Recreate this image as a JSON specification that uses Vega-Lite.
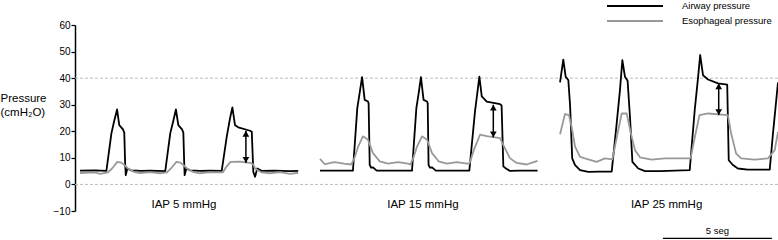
{
  "$schema": "https://vega.github.io/schema/vega-lite/v6.json",
  "width": 703,
  "height": 186,
  "autosize": {"type": "none"},
  "padding": {"left": 75, "top": 25, "right": 0, "bottom": 29},
  "config": {
    "font": "Liberation Sans",
    "view": {"stroke": null},
    "axisY": {
      "values": [-10, 0, 10, 20, 30, 40, 50, 60],
      "grid": false,
      "domainColor": "#000000", "domainWidth": 1.5,
      "tickColor": "#000000", "tickWidth": 1.2, "tickSize": 4,
      "labelColor": "#000000", "labelFontSize": 10, "labelPadding": 1,
      "titleAngle": 0, "titleAlign": "left", "titleBaseline": "top",
      "titleX": -75, "titleY": 67,
      "titleFontSize": 11.5, "titleFontWeight": "normal", "titleColor": "#000000", "titleLineHeight": 14
    }
  },
  "datasets": {
    "traces": [
      {"panel": 1, "series": "Airway pressure", "t": 0.23, "p": 5.2},
      {"panel": 1, "series": "Airway pressure", "t": 0.92, "p": 5.3},
      {"panel": 1, "series": "Airway pressure", "t": 1.44, "p": 5.1},
      {"panel": 1, "series": "Airway pressure", "t": 1.67, "p": 19.2},
      {"panel": 1, "series": "Airway pressure", "t": 1.79, "p": 23.6},
      {"panel": 1, "series": "Airway pressure", "t": 1.93, "p": 28.2},
      {"panel": 1, "series": "Airway pressure", "t": 2.03, "p": 22.3},
      {"panel": 1, "series": "Airway pressure", "t": 2.20, "p": 20.7},
      {"panel": 1, "series": "Airway pressure", "t": 2.26, "p": 19.5},
      {"panel": 1, "series": "Airway pressure", "t": 2.30, "p": 8.0},
      {"panel": 1, "series": "Airway pressure", "t": 2.33, "p": 3.5},
      {"panel": 1, "series": "Airway pressure", "t": 2.40, "p": 6.0},
      {"panel": 1, "series": "Airway pressure", "t": 2.58, "p": 5.3},
      {"panel": 1, "series": "Airway pressure", "t": 3.04, "p": 5.1},
      {"panel": 1, "series": "Airway pressure", "t": 3.44, "p": 5.2},
      {"panel": 1, "series": "Airway pressure", "t": 4.14, "p": 5.0},
      {"panel": 1, "series": "Airway pressure", "t": 4.37, "p": 19.2},
      {"panel": 1, "series": "Airway pressure", "t": 4.50, "p": 23.6},
      {"panel": 1, "series": "Airway pressure", "t": 4.63, "p": 28.2},
      {"panel": 1, "series": "Airway pressure", "t": 4.74, "p": 22.3},
      {"panel": 1, "series": "Airway pressure", "t": 4.91, "p": 20.7},
      {"panel": 1, "series": "Airway pressure", "t": 4.97, "p": 19.5},
      {"panel": 1, "series": "Airway pressure", "t": 5.01, "p": 8.0},
      {"panel": 1, "series": "Airway pressure", "t": 5.03, "p": 3.5},
      {"panel": 1, "series": "Airway pressure", "t": 5.11, "p": 6.0},
      {"panel": 1, "series": "Airway pressure", "t": 5.29, "p": 5.3},
      {"panel": 1, "series": "Airway pressure", "t": 5.73, "p": 5.1},
      {"panel": 1, "series": "Airway pressure", "t": 6.19, "p": 5.2},
      {"panel": 1, "series": "Airway pressure", "t": 6.73, "p": 5.1},
      {"panel": 1, "series": "Airway pressure", "t": 6.96, "p": 17.9},
      {"panel": 1, "series": "Airway pressure", "t": 7.11, "p": 24.8},
      {"panel": 1, "series": "Airway pressure", "t": 7.22, "p": 29.0},
      {"panel": 1, "series": "Airway pressure", "t": 7.34, "p": 22.3},
      {"panel": 1, "series": "Airway pressure", "t": 7.49, "p": 21.5},
      {"panel": 1, "series": "Airway pressure", "t": 8.03, "p": 20.2},
      {"panel": 1, "series": "Airway pressure", "t": 8.11, "p": 19.8},
      {"panel": 1, "series": "Airway pressure", "t": 8.18, "p": 4.7},
      {"panel": 1, "series": "Airway pressure", "t": 8.26, "p": 2.9},
      {"panel": 1, "series": "Airway pressure", "t": 8.36, "p": 6.0},
      {"panel": 1, "series": "Airway pressure", "t": 8.56, "p": 5.1},
      {"panel": 1, "series": "Airway pressure", "t": 9.17, "p": 5.2},
      {"panel": 1, "series": "Airway pressure", "t": 9.86, "p": 5.0},
      {"panel": 1, "series": "Airway pressure", "t": 10.24, "p": 5.1},

      {"panel": 1, "series": "Esophageal pressure", "t": 0.23, "p": 4.3},
      {"panel": 1, "series": "Esophageal pressure", "t": 0.92, "p": 4.5},
      {"panel": 1, "series": "Esophageal pressure", "t": 1.15, "p": 4.0},
      {"panel": 1, "series": "Esophageal pressure", "t": 1.51, "p": 4.5},
      {"panel": 1, "series": "Esophageal pressure", "t": 1.70, "p": 6.0},
      {"panel": 1, "series": "Esophageal pressure", "t": 1.94, "p": 8.5},
      {"panel": 1, "series": "Esophageal pressure", "t": 2.12, "p": 8.2},
      {"panel": 1, "series": "Esophageal pressure", "t": 2.27, "p": 7.3},
      {"panel": 1, "series": "Esophageal pressure", "t": 2.43, "p": 6.0},
      {"panel": 1, "series": "Esophageal pressure", "t": 2.74, "p": 4.6},
      {"panel": 1, "series": "Esophageal pressure", "t": 2.98, "p": 4.3},
      {"panel": 1, "series": "Esophageal pressure", "t": 3.44, "p": 4.6},
      {"panel": 1, "series": "Esophageal pressure", "t": 3.90, "p": 4.2},
      {"panel": 1, "series": "Esophageal pressure", "t": 4.22, "p": 4.5},
      {"panel": 1, "series": "Esophageal pressure", "t": 4.40, "p": 6.0},
      {"panel": 1, "series": "Esophageal pressure", "t": 4.65, "p": 8.5},
      {"panel": 1, "series": "Esophageal pressure", "t": 4.83, "p": 8.2},
      {"panel": 1, "series": "Esophageal pressure", "t": 4.97, "p": 7.3},
      {"panel": 1, "series": "Esophageal pressure", "t": 5.14, "p": 6.0},
      {"panel": 1, "series": "Esophageal pressure", "t": 5.44, "p": 4.6},
      {"panel": 1, "series": "Esophageal pressure", "t": 5.73, "p": 4.2},
      {"panel": 1, "series": "Esophageal pressure", "t": 6.19, "p": 4.6},
      {"panel": 1, "series": "Esophageal pressure", "t": 6.78, "p": 4.5},
      {"panel": 1, "series": "Esophageal pressure", "t": 6.93, "p": 6.5},
      {"panel": 1, "series": "Esophageal pressure", "t": 7.14, "p": 8.5},
      {"panel": 1, "series": "Esophageal pressure", "t": 7.57, "p": 8.6},
      {"panel": 1, "series": "Esophageal pressure", "t": 8.03, "p": 8.1},
      {"panel": 1, "series": "Esophageal pressure", "t": 8.17, "p": 7.6},
      {"panel": 1, "series": "Esophageal pressure", "t": 8.26, "p": 6.0},
      {"panel": 1, "series": "Esophageal pressure", "t": 8.56, "p": 4.5},
      {"panel": 1, "series": "Esophageal pressure", "t": 8.94, "p": 4.2},
      {"panel": 1, "series": "Esophageal pressure", "t": 9.40, "p": 4.6},
      {"panel": 1, "series": "Esophageal pressure", "t": 9.86, "p": 4.0},
      {"panel": 1, "series": "Esophageal pressure", "t": 10.24, "p": 4.4},

      {"panel": 2, "series": "Airway pressure", "t": 11.24, "p": 5.2},
      {"panel": 2, "series": "Airway pressure", "t": 12.16, "p": 5.2},
      {"panel": 2, "series": "Airway pressure", "t": 12.75, "p": 5.2},
      {"panel": 2, "series": "Airway pressure", "t": 12.95, "p": 28.7},
      {"panel": 2, "series": "Airway pressure", "t": 13.05, "p": 34.0},
      {"panel": 2, "series": "Airway pressure", "t": 13.17, "p": 40.4},
      {"panel": 2, "series": "Airway pressure", "t": 13.29, "p": 31.8},
      {"panel": 2, "series": "Airway pressure", "t": 13.44, "p": 31.2},
      {"panel": 2, "series": "Airway pressure", "t": 13.47, "p": 30.5},
      {"panel": 2, "series": "Airway pressure", "t": 13.52, "p": 7.4},
      {"panel": 2, "series": "Airway pressure", "t": 13.58, "p": 6.3},
      {"panel": 2, "series": "Airway pressure", "t": 13.67, "p": 6.4},
      {"panel": 2, "series": "Airway pressure", "t": 13.84, "p": 5.2},
      {"panel": 2, "series": "Airway pressure", "t": 14.45, "p": 5.2},
      {"panel": 2, "series": "Airway pressure", "t": 14.91, "p": 5.2},
      {"panel": 2, "series": "Airway pressure", "t": 15.46, "p": 5.2},
      {"panel": 2, "series": "Airway pressure", "t": 15.66, "p": 28.7},
      {"panel": 2, "series": "Airway pressure", "t": 15.76, "p": 34.0},
      {"panel": 2, "series": "Airway pressure", "t": 15.87, "p": 40.4},
      {"panel": 2, "series": "Airway pressure", "t": 15.99, "p": 31.8},
      {"panel": 2, "series": "Airway pressure", "t": 16.15, "p": 31.2},
      {"panel": 2, "series": "Airway pressure", "t": 16.18, "p": 30.5},
      {"panel": 2, "series": "Airway pressure", "t": 16.22, "p": 7.4},
      {"panel": 2, "series": "Airway pressure", "t": 16.28, "p": 6.3},
      {"panel": 2, "series": "Airway pressure", "t": 16.38, "p": 6.4},
      {"panel": 2, "series": "Airway pressure", "t": 16.55, "p": 5.2},
      {"panel": 2, "series": "Airway pressure", "t": 17.20, "p": 5.2},
      {"panel": 2, "series": "Airway pressure", "t": 18.09, "p": 5.2},
      {"panel": 2, "series": "Airway pressure", "t": 18.35, "p": 27.5},
      {"panel": 2, "series": "Airway pressure", "t": 18.45, "p": 34.0},
      {"panel": 2, "series": "Airway pressure", "t": 18.55, "p": 40.6},
      {"panel": 2, "series": "Airway pressure", "t": 18.66, "p": 33.1},
      {"panel": 2, "series": "Airway pressure", "t": 18.89, "p": 31.2},
      {"panel": 2, "series": "Airway pressure", "t": 19.50, "p": 30.2},
      {"panel": 2, "series": "Airway pressure", "t": 19.57, "p": 29.7},
      {"panel": 2, "series": "Airway pressure", "t": 19.65, "p": 6.8},
      {"panel": 2, "series": "Airway pressure", "t": 19.77, "p": 6.0},
      {"panel": 2, "series": "Airway pressure", "t": 19.95, "p": 5.1},
      {"panel": 2, "series": "Airway pressure", "t": 20.41, "p": 5.2},
      {"panel": 2, "series": "Airway pressure", "t": 21.22, "p": 5.2},

      {"panel": 2, "series": "Esophageal pressure", "t": 11.24, "p": 9.6},
      {"panel": 2, "series": "Esophageal pressure", "t": 11.46, "p": 7.6},
      {"panel": 2, "series": "Esophageal pressure", "t": 11.91, "p": 8.4},
      {"panel": 2, "series": "Esophageal pressure", "t": 12.34, "p": 7.8},
      {"panel": 2, "series": "Esophageal pressure", "t": 12.67, "p": 7.5},
      {"panel": 2, "series": "Esophageal pressure", "t": 12.80, "p": 9.5},
      {"panel": 2, "series": "Esophageal pressure", "t": 12.98, "p": 14.0},
      {"panel": 2, "series": "Esophageal pressure", "t": 13.21, "p": 18.1},
      {"panel": 2, "series": "Esophageal pressure", "t": 13.44, "p": 16.8},
      {"panel": 2, "series": "Esophageal pressure", "t": 13.67, "p": 11.8},
      {"panel": 2, "series": "Esophageal pressure", "t": 13.98, "p": 8.7},
      {"panel": 2, "series": "Esophageal pressure", "t": 14.36, "p": 7.8},
      {"panel": 2, "series": "Esophageal pressure", "t": 14.82, "p": 8.4},
      {"panel": 2, "series": "Esophageal pressure", "t": 15.28, "p": 7.8},
      {"panel": 2, "series": "Esophageal pressure", "t": 15.38, "p": 7.5},
      {"panel": 2, "series": "Esophageal pressure", "t": 15.50, "p": 9.5},
      {"panel": 2, "series": "Esophageal pressure", "t": 15.68, "p": 14.0},
      {"panel": 2, "series": "Esophageal pressure", "t": 15.92, "p": 18.1},
      {"panel": 2, "series": "Esophageal pressure", "t": 16.15, "p": 16.8},
      {"panel": 2, "series": "Esophageal pressure", "t": 16.38, "p": 11.8},
      {"panel": 2, "series": "Esophageal pressure", "t": 16.68, "p": 8.7},
      {"panel": 2, "series": "Esophageal pressure", "t": 17.06, "p": 7.8},
      {"panel": 2, "series": "Esophageal pressure", "t": 17.52, "p": 8.4},
      {"panel": 2, "series": "Esophageal pressure", "t": 17.98, "p": 7.8},
      {"panel": 2, "series": "Esophageal pressure", "t": 18.09, "p": 7.8},
      {"panel": 2, "series": "Esophageal pressure", "t": 18.30, "p": 13.0},
      {"panel": 2, "series": "Esophageal pressure", "t": 18.58, "p": 18.7},
      {"panel": 2, "series": "Esophageal pressure", "t": 18.89, "p": 18.2},
      {"panel": 2, "series": "Esophageal pressure", "t": 19.50, "p": 17.4},
      {"panel": 2, "series": "Esophageal pressure", "t": 19.72, "p": 13.7},
      {"panel": 2, "series": "Esophageal pressure", "t": 19.95, "p": 9.9},
      {"panel": 2, "series": "Esophageal pressure", "t": 20.26, "p": 8.1},
      {"panel": 2, "series": "Esophageal pressure", "t": 20.72, "p": 7.5},
      {"panel": 2, "series": "Esophageal pressure", "t": 21.01, "p": 8.3},
      {"panel": 2, "series": "Esophageal pressure", "t": 21.22, "p": 8.9},

      {"panel": 3, "series": "Airway pressure", "t": 22.25, "p": 38.4},
      {"panel": 3, "series": "Airway pressure", "t": 22.40, "p": 47.0},
      {"panel": 3, "series": "Airway pressure", "t": 22.51, "p": 40.5},
      {"panel": 3, "series": "Airway pressure", "t": 22.63, "p": 39.3},
      {"panel": 3, "series": "Airway pressure", "t": 22.71, "p": 30.0},
      {"panel": 3, "series": "Airway pressure", "t": 22.81, "p": 9.8},
      {"panel": 3, "series": "Airway pressure", "t": 22.94, "p": 7.3},
      {"panel": 3, "series": "Airway pressure", "t": 23.17, "p": 5.4},
      {"panel": 3, "series": "Airway pressure", "t": 23.55, "p": 4.7},
      {"panel": 3, "series": "Airway pressure", "t": 24.08, "p": 4.8},
      {"panel": 3, "series": "Airway pressure", "t": 24.62, "p": 4.8},
      {"panel": 3, "series": "Airway pressure", "t": 24.85, "p": 23.0},
      {"panel": 3, "series": "Airway pressure", "t": 25.00, "p": 35.5},
      {"panel": 3, "series": "Airway pressure", "t": 25.11, "p": 46.8},
      {"panel": 3, "series": "Airway pressure", "t": 25.23, "p": 40.5},
      {"panel": 3, "series": "Airway pressure", "t": 25.35, "p": 39.0},
      {"panel": 3, "series": "Airway pressure", "t": 25.46, "p": 25.4},
      {"panel": 3, "series": "Airway pressure", "t": 25.57, "p": 8.5},
      {"panel": 3, "series": "Airway pressure", "t": 25.84, "p": 6.0},
      {"panel": 3, "series": "Airway pressure", "t": 26.15, "p": 5.0},
      {"panel": 3, "series": "Airway pressure", "t": 26.83, "p": 5.0},
      {"panel": 3, "series": "Airway pressure", "t": 27.52, "p": 5.2},
      {"panel": 3, "series": "Airway pressure", "t": 28.20, "p": 5.4},
      {"panel": 3, "series": "Airway pressure", "t": 28.43, "p": 28.0},
      {"panel": 3, "series": "Airway pressure", "t": 28.58, "p": 40.0},
      {"panel": 3, "series": "Airway pressure", "t": 28.68, "p": 48.7},
      {"panel": 3, "series": "Airway pressure", "t": 28.81, "p": 41.1},
      {"panel": 3, "series": "Airway pressure", "t": 29.04, "p": 39.5},
      {"panel": 3, "series": "Airway pressure", "t": 29.50, "p": 38.0},
      {"panel": 3, "series": "Airway pressure", "t": 29.92, "p": 37.6},
      {"panel": 3, "series": "Airway pressure", "t": 29.99, "p": 9.1},
      {"panel": 3, "series": "Airway pressure", "t": 30.18, "p": 7.3},
      {"panel": 3, "series": "Airway pressure", "t": 30.41, "p": 6.0},
      {"panel": 3, "series": "Airway pressure", "t": 30.87, "p": 5.6},
      {"panel": 3, "series": "Airway pressure", "t": 31.87, "p": 5.6},
      {"panel": 3, "series": "Airway pressure", "t": 32.02, "p": 19.2},
      {"panel": 3, "series": "Airway pressure", "t": 32.25, "p": 38.4},

      {"panel": 3, "series": "Esophageal pressure", "t": 22.25, "p": 18.9},
      {"panel": 3, "series": "Esophageal pressure", "t": 22.48, "p": 26.5},
      {"panel": 3, "series": "Esophageal pressure", "t": 22.66, "p": 26.1},
      {"panel": 3, "series": "Esophageal pressure", "t": 22.78, "p": 21.7},
      {"panel": 3, "series": "Esophageal pressure", "t": 22.94, "p": 14.2},
      {"panel": 3, "series": "Esophageal pressure", "t": 23.17, "p": 10.4},
      {"panel": 3, "series": "Esophageal pressure", "t": 23.39, "p": 9.8},
      {"panel": 3, "series": "Esophageal pressure", "t": 23.93, "p": 8.5},
      {"panel": 3, "series": "Esophageal pressure", "t": 24.31, "p": 9.8},
      {"panel": 3, "series": "Esophageal pressure", "t": 24.65, "p": 9.4},
      {"panel": 3, "series": "Esophageal pressure", "t": 24.86, "p": 18.0},
      {"panel": 3, "series": "Esophageal pressure", "t": 25.08, "p": 26.7},
      {"panel": 3, "series": "Esophageal pressure", "t": 25.31, "p": 26.7},
      {"panel": 3, "series": "Esophageal pressure", "t": 25.50, "p": 19.2},
      {"panel": 3, "series": "Esophageal pressure", "t": 25.69, "p": 12.9},
      {"panel": 3, "series": "Esophageal pressure", "t": 25.92, "p": 10.2},
      {"panel": 3, "series": "Esophageal pressure", "t": 26.45, "p": 9.3},
      {"panel": 3, "series": "Esophageal pressure", "t": 27.06, "p": 9.8},
      {"panel": 3, "series": "Esophageal pressure", "t": 27.66, "p": 9.8},
      {"panel": 3, "series": "Esophageal pressure", "t": 28.24, "p": 9.8},
      {"panel": 3, "series": "Esophageal pressure", "t": 28.44, "p": 18.0},
      {"panel": 3, "series": "Esophageal pressure", "t": 28.65, "p": 26.1},
      {"panel": 3, "series": "Esophageal pressure", "t": 29.04, "p": 26.7},
      {"panel": 3, "series": "Esophageal pressure", "t": 29.95, "p": 26.1},
      {"panel": 3, "series": "Esophageal pressure", "t": 30.10, "p": 19.2},
      {"panel": 3, "series": "Esophageal pressure", "t": 30.33, "p": 11.6},
      {"panel": 3, "series": "Esophageal pressure", "t": 30.56, "p": 9.8},
      {"panel": 3, "series": "Esophageal pressure", "t": 31.19, "p": 9.3},
      {"panel": 3, "series": "Esophageal pressure", "t": 31.79, "p": 9.8},
      {"panel": 3, "series": "Esophageal pressure", "t": 32.10, "p": 12.9},
      {"panel": 3, "series": "Esophageal pressure", "t": 32.25, "p": 19.8}
    ],
    "guides": [{"p": 0}, {"p": 40}],
    "arrows": [
      {"t": 7.84, "p": 20.2, "p2": 8.1},
      {"t": 19.19, "p": 30.0, "p2": 17.7},
      {"t": 29.53, "p": 38.0, "p2": 26.1}
    ],
    "labels": [
      {"label": "IAP 5 mmHg", "t": 5.0, "p": -8.9},
      {"label": "IAP 15 mmHg", "t": 15.96, "p": -8.9},
      {"label": "IAP 25 mmHg", "t": 27.14, "p": -8.9}
    ],
    "scalebar": [{"label": "5 seg", "t": 26.97, "t2": 31.97, "p": -20.3, "tm": 29.47, "pt": -18.6}]
  },
  "layer": [
    {
      "data": {"name": "guides"},
      "mark": {"type": "rule", "color": "#bdbdbd", "strokeDash": [3, 2], "strokeWidth": 1},
      "encoding": {
        "y": {"field": "p", "type": "quantitative", "title": ["Pressure", "(cmH₂O)"], "scale": {"domain": [-10, 60], "nice": false, "zero": false}}
      }
    },
    {
      "data": {"name": "traces"},
      "mark": {"type": "line", "strokeWidth": 1.8, "strokeJoin": "round"},
      "encoding": {
        "x": {"field": "t", "type": "quantitative", "scale": {"domain": [0, 32.25], "nice": false, "zero": false}, "axis": null},
        "y": {"field": "p", "type": "quantitative", "title": ["Pressure", "(cmH₂O)"]},
        "color": {
          "field": "series", "type": "nominal",
          "scale": {"domain": ["Airway pressure", "Esophageal pressure"], "range": ["#000000", "#999999"]},
          "legend": {
            "title": null, "orient": "none", "legendX": 532, "legendY": -24,
            "symbolType": "M0,0H14", "symbolSize": 64, "symbolOffset": -5, "symbolStrokeWidth": 2,
            "labelOffset": 70, "labelFontSize": 9.5, "labelColor": "#000000", "rowPadding": 5, "padding": 0
          }
        },
        "detail": {"field": "panel", "type": "nominal"}
      }
    },
    {
      "data": {"name": "arrows"},
      "mark": {"type": "rule", "color": "#000000", "strokeWidth": 1.5},
      "encoding": {
        "x": {"field": "t", "type": "quantitative", "axis": null},
        "y": {"field": "p", "type": "quantitative", "title": ["Pressure", "(cmH₂O)"]},
        "y2": {"field": "p2"}
      }
    },
    {
      "data": {"name": "arrows"},
      "mark": {"type": "point", "shape": "triangle-up", "filled": true, "color": "#000000", "size": 45, "opacity": 1, "yOffset": 3},
      "encoding": {
        "x": {"field": "t", "type": "quantitative", "axis": null},
        "y": {"field": "p", "type": "quantitative", "title": ["Pressure", "(cmH₂O)"]}
      }
    },
    {
      "data": {"name": "arrows"},
      "mark": {"type": "point", "shape": "triangle-down", "filled": true, "color": "#000000", "size": 45, "opacity": 1, "yOffset": -3},
      "encoding": {
        "x": {"field": "t", "type": "quantitative", "axis": null},
        "y": {"field": "p2", "type": "quantitative", "title": ["Pressure", "(cmH₂O)"]}
      }
    },
    {
      "data": {"name": "labels"},
      "mark": {"type": "text", "fontSize": 11.5, "color": "#000000", "align": "center", "baseline": "alphabetic"},
      "encoding": {
        "x": {"field": "t", "type": "quantitative", "axis": null},
        "y": {"field": "p", "type": "quantitative", "title": ["Pressure", "(cmH₂O)"]},
        "text": {"field": "label"}
      }
    },
    {
      "data": {"name": "scalebar"},
      "mark": {"type": "rule", "color": "#000000", "strokeWidth": 1.2},
      "encoding": {
        "x": {"field": "t", "type": "quantitative", "axis": null},
        "x2": {"field": "t2"},
        "y": {"field": "p", "type": "quantitative", "title": ["Pressure", "(cmH₂O)"]}
      }
    },
    {
      "data": {"name": "scalebar"},
      "mark": {"type": "text", "fontSize": 9.5, "color": "#000000", "align": "center", "baseline": "alphabetic"},
      "encoding": {
        "x": {"field": "tm", "type": "quantitative", "axis": null},
        "y": {"field": "pt", "type": "quantitative", "title": ["Pressure", "(cmH₂O)"]},
        "text": {"field": "label"}
      }
    }
  ]
}
